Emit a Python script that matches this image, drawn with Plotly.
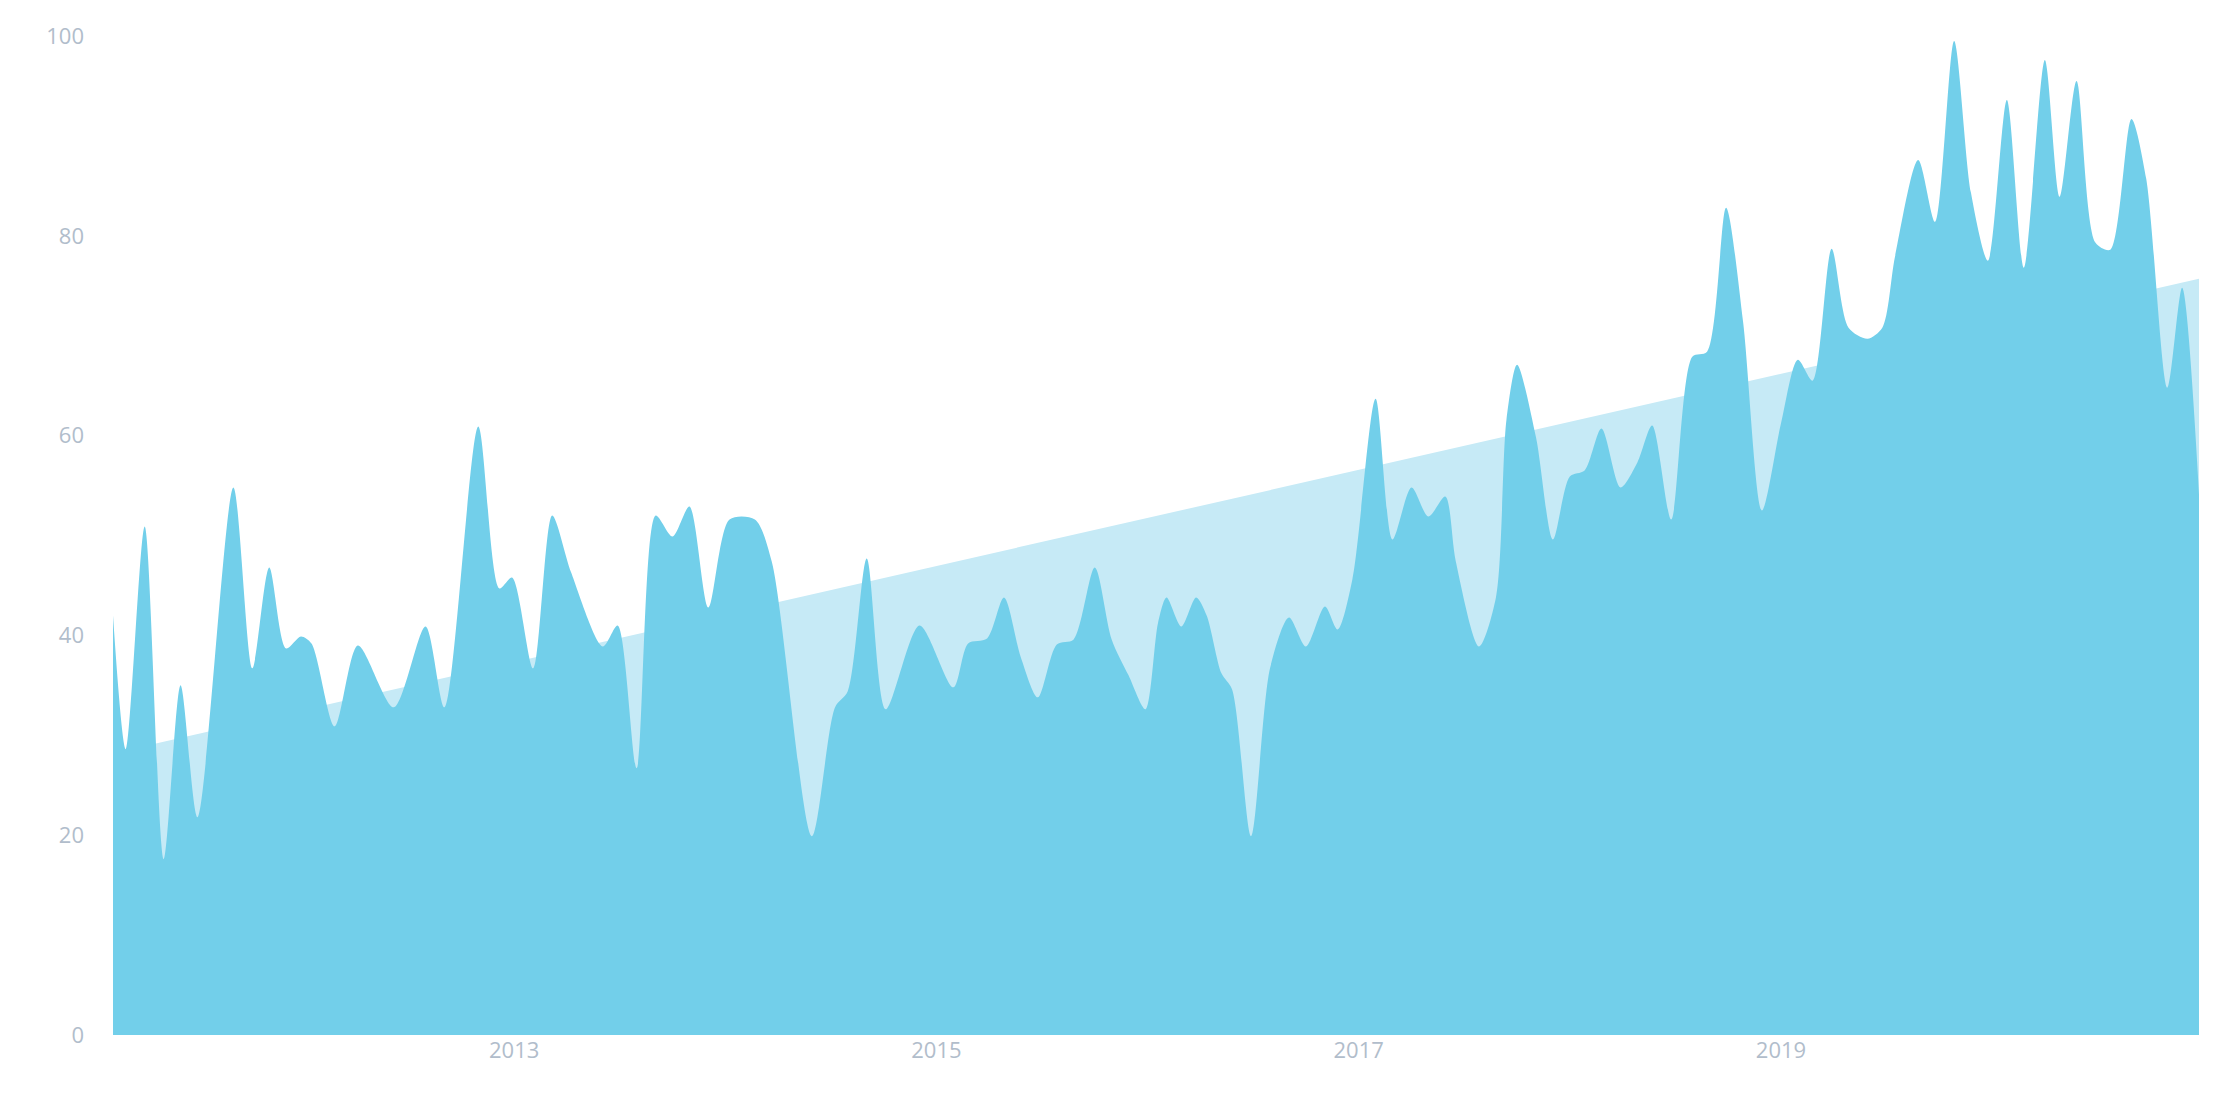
import plotly.graph_objects as go

# decimal year / value pairs
years = [2011.10, 2011.16, 2011.25, 2011.34, 2011.42, 2011.50, 2011.67, 2011.76, 2011.84, 2011.92,
         2011.99, 2012.04, 2012.15, 2012.26, 2012.43, 2012.58, 2012.67, 2012.83, 2012.93, 2012.99,
         2013.09, 2013.18, 2013.27, 2013.42, 2013.49, 2013.58, 2013.67, 2013.75, 2013.83, 2013.92,
         2014.02, 2014.14, 2014.22, 2014.41, 2014.52, 2014.58, 2014.67, 2014.76, 2014.92, 2015.08,
         2015.15, 2015.24, 2015.32, 2015.40, 2015.48, 2015.57, 2015.65, 2015.75, 2015.83, 2015.91,
         2015.99, 2016.05, 2016.09, 2016.16, 2016.23, 2016.28, 2016.35, 2016.40, 2016.49, 2016.58,
         2016.67, 2016.75, 2016.84, 2016.90, 2016.97, 2017.08, 2017.16, 2017.25, 2017.33, 2017.41,
         2017.46, 2017.57, 2017.65, 2017.70, 2017.75, 2017.84, 2017.92, 2018.00, 2018.07, 2018.15,
         2018.24, 2018.32, 2018.39, 2018.48, 2018.58, 2018.65, 2018.74, 2018.82, 2018.91, 2019.00,
         2019.08, 2019.15, 2019.24, 2019.32, 2019.41, 2019.48, 2019.54, 2019.65, 2019.73, 2019.82,
         2019.90, 2019.98, 2020.07, 2020.15, 2020.25, 2020.32, 2020.40, 2020.49, 2020.56, 2020.66,
         2020.73, 2020.83, 2020.90, 2020.98]
values = [42, 28.6, 50.9, 17.6, 35, 21.8, 54.8, 36.7, 46.8, 38.7,
          39.9, 39.2, 30.9, 39, 32.8, 40.9, 32.8, 60.9, 44.7, 45.8,
          36.7, 52, 46.3, 38.9, 41, 26.7, 52, 49.9, 52.9, 42.8,
          51.6, 51.6, 47.4, 19.9, 32.8, 34.4, 47.7, 32.6, 41, 34.8,
          39.2, 39.7, 43.8, 37.8, 33.8, 39.1, 39.6, 46.8, 39.6, 36,
          32.6, 41.3, 43.8, 40.9, 43.8, 42, 36.2, 34.6, 19.9, 36.7,
          41.8, 38.9, 42.9, 40.6, 45.6, 63.7, 49.6, 54.8, 51.9, 53.9,
          47.4, 38.9, 43.8, 61.6, 67.1, 59.8, 49.6, 55.9, 56.5, 60.7,
          54.8, 57.3, 61, 51.6, 67.9, 68.4, 82.8, 71.5, 52.5, 61.2,
          67.6, 65.5, 78.7, 70.8, 69.7, 70.8, 77.9, 87.6, 81.4, 99.5,
          84.3, 77.5, 93.6, 76.8, 97.6, 83.9, 95.5, 79.3, 78.6, 91.7,
          85.7, 64.8, 74.8, 54.1]

trend_years = [2011.10, 2020.98]
trend_values = [28.2, 75.7]

tick_years = [2013, 2015, 2017, 2019, 2021]

fig = go.Figure()
fig.add_trace(go.Scatter(
    x=trend_years, y=trend_values, mode='lines', fill='tozeroy',
    line=dict(width=0, color='#c6eaf6'), fillcolor='#c6eaf6', hoverinfo='skip'
))
fig.add_trace(go.Scatter(
    x=years, y=values, mode='lines', fill='tozeroy',
    line=dict(width=0, color='#72cfea', shape='spline', smoothing=0.8),
    fillcolor='#72cfea'
))
fig.update_layout(
    width=2240, height=1120, showlegend=False,
    paper_bgcolor='white', plot_bgcolor='white',
    margin=dict(l=105, r=49, t=20, b=93),
    font=dict(family='Open Sans', size=22, color='#b1bdcb'),
    xaxis=dict(range=[years[0], years[-1]], tickvals=tick_years,
               ticktext=[str(y) for y in tick_years], showgrid=False,
               zeroline=False, showline=False, ticks=''),
    yaxis=dict(range=[0, 100], tickvals=[0, 20, 40, 60, 80, 100],
               showgrid=False, zeroline=False, showline=False, ticks='',
               ticklabelstandoff=28),
)
fig.write_html("out.html")
